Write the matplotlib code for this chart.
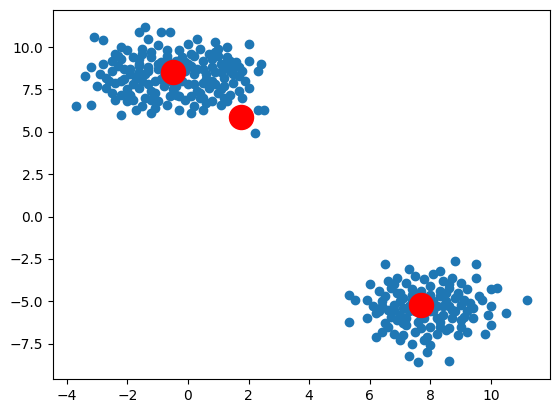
import matplotlib
matplotlib.use("Agg")
import matplotlib.pyplot as plt

# top-left cluster
top_x = [-3.7, -3.2, -3.4, -3.2, -3.1, -2.8, -2.2, -1.6, -1.4, -0.9, -0.6, 0.3, 1.3, 2.0, 2.4, 2.3,
         2.3, 2.5, 2.2, -2.2, -1.2, 0.1, 0.5, 1.3, -2.7, -3.0, -1.7, 1.8, 2.0, 1.5, 1.0, -2.5, -2.9,
         -2.4, -2.0, -1.8, -1.5, -1.2, -1.0, -0.7, -0.3, 0.0, 0.4, 0.7, 1.0, 1.3, 1.6,
         -2.3, -1.9, -1.6, -1.3, -0.9, -0.4, 0.1, 0.5, 0.8, 1.1, 1.4, 1.7,
         -2.1, -1.7, -1.4, -1.1, -0.8, -0.2, 0.2, 0.6, 0.9, 1.2, 1.5,
         -2.0, -1.6, -1.2, -0.8, -0.5, 0.0, 0.3, 0.7, 1.0, 1.4,
         -1.8, -1.4, -1.0, -0.6, -0.1, 0.4, 0.8, 1.1, -1.5, -1.1, -0.7, -0.3, 0.2, 0.6,
         -2.6, -2.2, 0.9, 1.9, -1.3, 0.1, -0.6, -2.4, 1.2, -0.2,
         -2.8, -2.5, -2.2, -1.9, -1.6, -1.3, -1.0, -0.7, -0.4, -0.1, 0.2, 0.5, 0.8, 1.1, 1.4, 1.7, 2.0,
         -2.7, -2.4, -2.1, -1.8, -1.5, -1.2, -0.9, -0.6, -0.3, 0.0, 0.3, 0.6, 0.9, 1.2, 1.5, 1.8,
         -2.5, -2.2, -1.9, -1.6, -1.3, -1.0, -0.7, -0.4, -0.1, 0.2, 0.5, 0.8, 1.1, 1.4,
         -2.3, -1.9, -1.5, -1.1, -0.7, -0.3, 0.1, 0.5, 0.9, 1.3, 1.7,
         -2.0, -1.6, -1.2, -0.8, -0.4, 0.0, 0.4, 0.8, 1.2]
top_y = [6.5, 6.6, 8.3, 8.8, 10.6, 10.4, 10.0, 10.9, 11.2, 10.9, 10.9, 10.5, 10.0, 10.2, 9.0, 8.6,
         6.3, 6.3, 4.9, 6.0, 6.1, 6.1, 6.3, 6.8, 7.6, 7.7, 6.3, 7.0, 7.6, 8.9, 9.5, 9.2, 8.4,
         9.6, 9.8, 9.4, 9.9, 9.7, 10.1, 9.5, 9.8, 10.2, 9.9, 9.6, 9.9, 9.4, 9.1,
         8.9, 8.7, 9.0, 8.8, 9.1, 9.2, 8.9, 9.2, 8.8, 9.0, 8.6, 8.3,
         8.1, 8.2, 8.4, 8.0, 8.3, 8.0, 8.4, 8.1, 8.5, 8.2, 7.9,
         7.5, 7.6, 7.4, 7.7, 7.5, 7.8, 7.4, 7.6, 7.3, 7.2,
         6.9, 7.0, 6.8, 7.1, 6.9, 7.0, 6.8, 6.6, 6.5, 6.4, 6.6, 6.3, 6.5, 6.7,
         8.0, 7.2, 10.3, 8.0, 10.5, 7.1, 8.6, 6.9, 8.9, 9.4,
         9.0, 8.6, 9.3, 8.4, 9.3, 8.6, 9.0, 9.3, 8.8, 8.6, 9.5, 8.7, 9.3, 8.5, 9.2, 8.8, 9.2,
         8.2, 7.9, 8.7, 7.8, 8.0, 9.4, 8.1, 8.0, 8.2, 8.8, 8.7, 8.4, 7.8, 7.7, 8.4, 8.6,
         7.3, 8.0, 7.1, 8.5, 7.8, 8.7, 8.8, 7.7, 9.1, 7.8, 7.9, 8.0, 7.5, 8.7,
         9.5, 7.2, 9.6, 7.3, 9.8, 7.1, 9.6, 7.0, 9.7, 9.2, 7.4,
         6.8, 8.9, 6.9, 9.0, 7.2, 9.0, 7.3, 9.5, 7.0]

# bottom-right cluster
bot_x = [5.3, 5.3, 5.5, 5.9, 6.0, 6.5, 7.3, 8.3, 8.8, 9.5, 9.5, 10.0, 10.2, 11.2, 10.5, 10.0, 9.8,
         9.2, 7.3, 7.6, 7.9, 8.6, 7.0, 6.2, 6.4, 5.9, 9.0, 10.0, 9.9, 9.4,
         6.6, 6.9, 7.2, 7.5, 7.8, 8.1, 8.4, 8.7, 9.0,
         6.3, 6.7, 7.0, 7.4, 8.0, 8.3, 8.6, 8.9, 9.2,
         6.4, 6.8, 7.1, 7.5, 7.9, 8.2, 8.5, 8.8, 9.3,
         6.2, 6.6, 7.0, 7.3, 7.7, 8.1, 8.4, 8.7, 9.1,
         6.5, 6.9, 7.2, 7.6, 8.0, 8.3, 8.6, 9.0,
         6.8, 7.1, 7.5, 7.9, 8.2, 8.5, 7.4, 7.8, 8.9, 6.1, 9.6, 8.0,
         6.5, 6.8, 7.1, 7.4, 7.7, 8.0, 8.3, 8.6, 8.9, 9.2,
         6.4, 6.7, 7.0, 7.3, 7.6, 7.9, 8.2, 8.5, 8.8, 9.1,
         6.6, 6.9, 7.2, 7.5, 7.8, 8.1, 8.4, 8.7, 9.0,
         6.8, 7.1, 7.4, 7.7, 8.0, 8.3, 8.6, 6.3, 9.4, 9.7]
bot_y = [-4.6, -6.2, -4.9, -4.9, -4.0, -2.8, -3.1, -3.2, -2.6, -2.8, -3.6, -4.3, -4.2, -4.9, -5.7,
         -6.4, -6.9, -6.8, -8.2, -8.6, -8.0, -8.5, -7.3, -7.1, -6.8, -6.0, -6.5, -5.3, -5.8, -5.4,
         -3.8, -3.6, -3.9, -3.5, -3.7, -3.4, -3.8, -3.6, -3.9,
         -4.4, -4.2, -4.5, -4.3, -4.1, -4.4, -4.2, -4.5, -4.3,
         -5.0, -5.2, -4.8, -5.1, -4.9, -5.3, -5.0, -4.8, -5.1,
         -5.7, -5.5, -5.8, -5.6, -5.9, -5.6, -5.8, -5.5, -5.9,
         -6.3, -6.1, -6.4, -6.2, -6.5, -6.2, -6.6, -6.1,
         -6.9, -7.0, -6.8, -7.1, -6.9, -6.7, -7.5, -7.3, -7.0, -5.3, -4.7, -7.6,
         -4.7, -4.0, -5.4, -4.6, -4.4, -5.6, -4.7, -5.3, -4.6, -5.6,
         -5.3, -5.9, -5.0, -5.3, -4.6, -5.4, -6.0, -4.5, -5.6, -4.9,
         -6.5, -4.5, -6.0, -5.6, -6.0, -5.0, -5.3, -6.0, -5.2,
         -5.5, -6.3, -4.9, -6.6, -4.6, -6.5, -4.0, -5.6, -6.0, -4.9]

center_x = [-0.5, 1.75, 7.7]
center_y = [8.5, 5.9, -5.2]

fig = plt.figure(figsize=(5.59, 4.13), dpi=100)
plt.scatter(top_x + bot_x, top_y + bot_y)
plt.scatter(center_x, center_y, c='red', s=300)
plt.xticks([-4, -2, 0, 2, 4, 6, 8, 10])
plt.yticks([-7.5, -5.0, -2.5, 0.0, 2.5, 5.0, 7.5, 10.0])
plt.subplots_adjust(left=0.095, right=0.984, bottom=0.082, top=0.976)
plt.savefig("out.png")
